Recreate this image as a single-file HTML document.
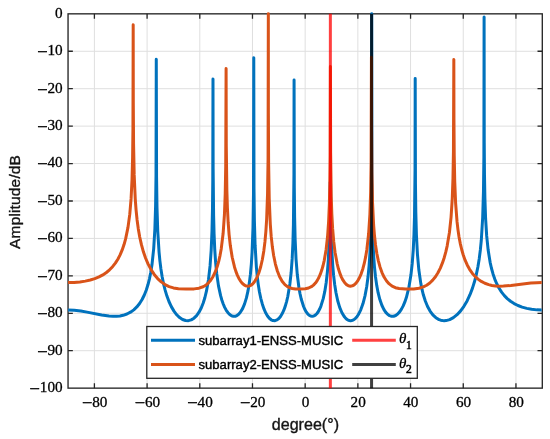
<!DOCTYPE html>
<html><head><meta charset="utf-8"><title>ENSS-MUSIC spectrum</title><style>html,body{margin:0;padding:0;background:#fff;overflow:hidden}svg{display:block}</style></head><body>
<svg width="550" height="439" viewBox="0 0 550 439">
<rect x="0" y="0" width="550" height="439" fill="#fff"/>
<path d="M94.40 13.84V388.14M147.09 13.84V388.14M199.79 13.84V388.14M252.48 13.84V388.14M305.17 13.84V388.14M357.87 13.84V388.14M410.56 13.84V388.14M463.26 13.84V388.14M515.95 13.84V388.14M68.05 350.71H542.30M68.05 313.28H542.30M68.05 275.85H542.30M68.05 238.42H542.30M68.05 200.99H542.30M68.05 163.56H542.30M68.05 126.13H542.30M68.05 88.70H542.30M68.05 51.27H542.30" stroke="#DFDFDF" stroke-width="1" fill="none"/>
<path d="M94.40 388.14v-4.8M94.40 13.84v4.8M147.09 388.14v-4.8M147.09 13.84v4.8M199.79 388.14v-4.8M199.79 13.84v4.8M252.48 388.14v-4.8M252.48 13.84v4.8M305.17 388.14v-4.8M305.17 13.84v4.8M357.87 388.14v-4.8M357.87 13.84v4.8M410.56 388.14v-4.8M410.56 13.84v4.8M463.26 388.14v-4.8M463.26 13.84v4.8M515.95 388.14v-4.8M515.95 13.84v4.8M68.05 350.71h4.8M542.30 350.71h-4.8M68.05 313.28h4.8M542.30 313.28h-4.8M68.05 275.85h4.8M542.30 275.85h-4.8M68.05 238.42h4.8M542.30 238.42h-4.8M68.05 200.99h4.8M542.30 200.99h-4.8M68.05 163.56h4.8M542.30 163.56h-4.8M68.05 126.13h4.8M542.30 126.13h-4.8M68.05 88.70h4.8M542.30 88.70h-4.8M68.05 51.27h4.8M542.30 51.27h-4.8" stroke="#262626" stroke-width="1.3" fill="none"/>
<rect x="68.05" y="13.84" width="474.25" height="374.30" stroke="#262626" stroke-width="1.35" fill="none"/>
<defs><clipPath id="cr"><rect x="0" y="0" width="541.7" height="439"/></clipPath></defs><g clip-path="url(#cr)">
<path d="M68.05 310.06 L74.24 310.30 L80.83 311.05 L87.02 312.12 L101.64 315.06 L109.02 316.10 L112.97 316.35 L116.53 316.30 L119.95 315.95 L123.12 315.31 L126.94 314.02 L130.49 312.20 L133.79 309.85 L136.82 306.94 L139.58 303.49 L142.09 299.49 L144.33 294.97 L146.30 289.97 L148.01 284.54 L149.46 278.82 L150.78 272.30 L151.97 264.79 L153.70 248.59 L154.89 228.91 L155.60 205.93 L156.02 174.96 L156.28 59.13 L156.56 176.66 L156.99 207.45 L157.74 231.01 L159.04 251.80 L159.90 260.83 L160.92 269.01 L162.11 276.49 L163.56 283.78 L165.14 290.17 L166.85 295.82 L168.96 301.50 L171.33 306.63 L173.97 311.13 L176.73 314.78 L179.63 317.60 L182.53 319.49 L185.56 320.53 L188.46 320.63 L191.22 319.87 L193.99 318.17 L196.62 315.57 L199.00 312.21 L201.24 307.94 L203.21 302.99 L204.92 297.48 L206.50 290.96 L208.48 279.69 L210.06 265.96 L211.20 250.10 L212.00 230.81 L212.49 208.72 L212.78 180.61 L212.99 78.97 L213.14 168.43 L213.61 215.63 L214.07 233.71 L214.73 249.14 L215.60 262.22 L216.72 273.65 L218.49 285.85 L220.60 295.64 L221.92 300.22 L223.24 303.97 L224.68 307.34 L226.27 310.28 L227.98 312.72 L229.69 314.50 L231.53 315.74 L233.38 316.32 L235.22 316.24 L236.94 315.57 L238.65 314.29 L240.36 312.34 L242.60 308.61 L244.58 303.91 L246.42 297.89 L248.00 290.91 L249.32 283.09 L250.43 274.14 L251.34 264.07 L252.08 252.47 L252.99 227.48 L253.49 193.97 L253.77 57.63 L254.00 189.02 L254.40 220.95 L255.10 245.17 L256.38 267.05 L257.24 276.33 L258.28 284.62 L259.46 291.94 L260.78 298.29 L262.36 304.24 L264.07 309.21 L265.79 313.04 L267.50 315.97 L269.34 318.26 L271.19 319.77 L273.03 320.56 L275.01 320.63 L276.98 319.91 L278.83 318.48 L280.54 316.43 L282.25 313.59 L283.83 310.15 L285.28 306.13 L286.60 301.56 L287.79 296.48 L289.89 283.89 L291.17 272.28 L292.16 258.90 L292.90 243.20 L293.41 224.73 L293.94 174.83 L294.08 80.09 L294.30 186.98 L294.61 216.74 L295.14 239.20 L296.02 258.81 L297.29 274.80 L298.98 287.96 L300.04 293.76 L301.22 298.96 L303.59 306.52 L304.91 309.54 L306.23 311.91 L307.68 313.87 L309.13 315.24 L310.58 316.06 L312.16 316.36 L313.74 316.07 L315.32 315.15 L316.77 313.75 L318.22 311.75 L319.53 309.34 L320.85 306.29 L323.22 298.67 L324.80 291.40 L326.25 282.19 L327.41 271.76 L328.34 259.75 L329.44 234.06 L329.90 211.10 L330.17 182.28 L330.52 182.28 L331.01 223.71 L331.96 252.70 L332.67 264.56 L333.58 275.19 L334.68 284.54 L336.00 292.79 L337.71 300.70 L339.69 307.35 L341.93 312.75 L344.43 316.86 L345.75 318.37 L347.07 319.48 L348.38 320.23 L349.83 320.64 L351.28 320.65 L352.73 320.25 L354.18 319.45 L355.50 318.34 L356.95 316.70 L358.26 314.77 L360.77 309.81 L363.01 303.51 L364.98 295.86 L366.70 286.72 L368.01 277.06 L369.11 265.58 L369.97 252.57 L370.96 225.21 L371.47 187.68 L371.71 13.84 L371.89 179.46 L372.29 216.63 L373.04 243.50 L373.68 256.12 L374.49 267.07 L375.49 276.74 L376.71 285.34 L378.16 292.91 L379.87 299.56 L381.85 305.23 L383.95 309.61 L385.80 312.38 L387.64 314.35 L389.62 315.69 L391.59 316.31 L393.57 316.25 L395.68 315.47 L397.65 314.04 L399.63 311.89 L401.47 309.17 L403.19 305.91 L404.77 302.16 L406.35 297.52 L408.85 287.53 L410.96 274.86 L412.23 263.40 L413.24 250.08 L413.97 234.78 L414.50 216.51 L415.03 170.81 L415.20 78.59 L415.45 183.14 L415.82 212.57 L416.42 234.71 L417.42 254.03 L418.86 270.01 L420.84 283.60 L422.02 289.47 L423.34 294.77 L425.32 301.05 L427.56 306.50 L430.06 311.09 L432.83 314.84 L435.86 317.70 L439.02 319.59 L440.73 320.21 L442.44 320.57 L444.16 320.70 L446.00 320.58 L449.69 319.59 L453.38 317.63 L457.07 314.69 L460.62 310.86 L463.92 306.32 L467.08 300.89 L469.98 294.72 L472.48 288.14 L474.46 281.82 L476.30 274.61 L477.88 266.93 L479.20 258.90 L480.35 249.95 L481.30 240.24 L482.69 217.48 L483.46 191.87 L483.88 157.33 L484.10 16.98 L484.25 143.07 L484.48 174.51 L484.89 198.02 L485.62 218.95 L486.68 235.94 L488.16 250.11 L490.13 262.31 L491.45 268.24 L493.03 273.96 L494.87 279.32 L496.85 283.97 L499.09 288.25 L501.59 292.15 L504.36 295.63 L507.26 298.58 L510.55 301.28 L514.11 303.58 L517.93 305.50 L522.14 307.12 L526.76 308.39 L531.63 309.30 L536.90 309.87 L542.30 310.06" stroke="#0072BD" stroke-width="3" fill="none" stroke-linejoin="round" stroke-linecap="butt"/>
<path d="M68.05 282.56 L74.11 282.40 L79.91 281.92 L85.31 281.13 L90.31 280.02 L94.79 278.65 L99.01 276.92 L102.83 274.89 L106.39 272.48 L109.55 269.82 L112.58 266.67 L115.34 263.12 L117.85 259.19 L120.09 254.89 L122.19 249.93 L124.04 244.57 L125.62 238.90 L127.99 227.37 L129.78 214.13 L131.11 198.39 L132.04 179.20 L132.61 157.16 L132.95 128.17 L133.19 24.69 L133.30 101.88 L133.57 143.80 L134.18 174.90 L135.25 198.81 L136.06 209.83 L137.06 219.71 L138.27 228.65 L139.71 236.98 L141.43 244.70 L143.40 251.79 L145.64 258.27 L148.15 264.13 L151.04 269.63 L154.21 274.44 L157.63 278.56 L161.19 281.89 L165.01 284.57 L169.09 286.58 L173.44 287.93 L178.44 288.75 L186.09 289.11 L194.12 288.88 L199.00 288.15 L203.08 286.72 L204.92 285.71 L206.77 284.39 L208.48 282.83 L210.06 281.05 L212.96 276.73 L215.59 271.16 L217.31 266.34 L218.76 261.20 L220.07 255.35 L221.26 248.67 L223.11 233.54 L224.42 214.98 L225.23 193.50 L225.72 166.19 L226.10 68.49 L226.28 145.97 L226.86 190.55 L227.40 207.75 L228.14 222.23 L229.12 234.84 L230.35 245.84 L232.19 257.23 L234.56 267.20 L235.88 271.36 L237.33 275.11 L238.78 278.17 L240.36 280.85 L242.07 283.07 L243.79 284.66 L245.50 285.68 L247.34 286.15 L249.19 285.99 L250.90 285.26 L252.61 283.94 L254.32 281.97 L256.70 278.01 L258.80 272.98 L260.65 267.00 L262.36 259.52 L263.81 250.92 L264.93 241.91 L265.88 231.42 L266.64 219.34 L267.56 193.64 L268.07 159.02 L268.33 13.84 L268.39 113.93 L268.63 163.53 L269.21 198.25 L270.29 224.09 L271.21 236.42 L272.37 247.09 L273.69 255.81 L275.40 264.07 L277.38 270.99 L279.62 276.68 L282.12 281.20 L284.89 284.58 L287.13 286.41 L289.50 287.68 L292.13 288.50 L295.43 288.97 L300.83 289.10 L305.31 288.78 L308.60 288.01 L311.37 286.70 L313.47 285.12 L315.45 283.02 L317.16 280.61 L318.88 277.51 L320.32 274.20 L321.77 270.10 L323.09 265.47 L324.28 260.30 L326.12 249.40 L327.54 236.76 L328.62 221.65 L329.38 203.69 L329.87 182.83 L330.17 156.09 L330.40 66.62 L330.62 152.28 L331.23 196.33 L331.81 213.76 L332.63 228.67 L333.71 241.45 L335.08 252.48 L337.19 263.86 L338.50 269.01 L339.82 273.16 L341.40 277.12 L342.98 280.19 L344.70 282.71 L346.54 284.60 L348.38 285.73 L350.36 286.17 L352.34 285.84 L354.18 284.82 L356.03 283.10 L357.87 280.59 L359.58 277.47 L361.16 273.79 L362.88 268.69 L364.32 263.21 L365.64 256.92 L366.83 249.72 L368.63 233.75 L369.90 214.29 L370.66 191.99 L371.12 162.71 L371.44 57.26 L371.56 130.77 L371.86 171.97 L372.51 202.06 L373.61 224.97 L374.47 235.54 L375.52 244.91 L376.84 253.51 L378.29 260.60 L380.00 266.98 L381.98 272.55 L384.22 277.27 L386.59 280.96 L389.22 283.91 L392.12 286.12 L395.41 287.67 L399.10 288.58 L405.43 289.09 L413.73 288.94 L418.99 288.24 L423.34 286.92 L426.64 285.26 L429.80 282.98 L432.70 280.17 L435.46 276.70 L437.96 272.74 L440.34 268.07 L442.44 262.94 L444.29 257.45 L445.87 251.69 L447.19 245.87 L449.43 232.48 L451.07 217.12 L452.25 198.88 L452.98 178.13 L453.44 151.72 L453.83 59.50 L453.94 118.18 L454.22 154.93 L454.75 181.80 L455.62 203.04 L457.04 221.68 L457.99 229.87 L459.04 236.94 L460.23 243.30 L461.68 249.52 L463.26 255.00 L465.10 260.18 L467.21 264.97 L469.58 269.30 L472.22 273.15 L474.98 276.36 L478.01 279.13 L481.31 281.43 L484.86 283.26 L488.68 284.64 L491.98 285.42 L495.53 285.93 L499.35 286.16 L503.44 286.12 L510.95 285.53 L530.84 283.11 L536.77 282.69 L542.30 282.56" stroke="#D95319" stroke-width="3" fill="none" stroke-linejoin="round" stroke-linecap="butt"/>
</g>
<path d="M330.36 13.84V388.14" stroke="#FF0000" stroke-opacity="0.75" stroke-width="3" fill="none"/>
<path d="M371.57 13.84V388.14" stroke="#000000" stroke-opacity="0.75" stroke-width="3" fill="none"/>
<g font-family="Liberation Serif, serif" font-size="15.2" fill="#000" stroke="#000" stroke-width="0.3"><text x="82.00" y="406.80" dy="1.3" textLength="10.2" lengthAdjust="spacingAndGlyphs" stroke-width="0.5">−</text><text x="92.20" y="406.80">80</text><text x="134.69" y="406.80" dy="1.3" textLength="10.2" lengthAdjust="spacingAndGlyphs" stroke-width="0.5">−</text><text x="144.89" y="406.80">60</text><text x="187.39" y="406.80" dy="1.3" textLength="10.2" lengthAdjust="spacingAndGlyphs" stroke-width="0.5">−</text><text x="197.59" y="406.80">40</text><text x="240.08" y="406.80" dy="1.3" textLength="10.2" lengthAdjust="spacingAndGlyphs" stroke-width="0.5">−</text><text x="250.28" y="406.80">20</text><text x="301.67" y="406.80">0</text><text x="350.57" y="406.80">20</text><text x="403.26" y="406.80">40</text><text x="455.96" y="406.80">60</text><text x="508.65" y="406.80">80</text><text x="29.60" y="391.94" dy="2.0" textLength="10.2" lengthAdjust="spacingAndGlyphs" stroke-width="0.5">−</text><text x="39.80" y="391.94">100</text><text x="37.20" y="354.51" dy="2.0" textLength="10.2" lengthAdjust="spacingAndGlyphs" stroke-width="0.5">−</text><text x="47.40" y="354.51">90</text><text x="37.20" y="317.08" dy="2.0" textLength="10.2" lengthAdjust="spacingAndGlyphs" stroke-width="0.5">−</text><text x="47.40" y="317.08">80</text><text x="37.20" y="279.65" dy="2.0" textLength="10.2" lengthAdjust="spacingAndGlyphs" stroke-width="0.5">−</text><text x="47.40" y="279.65">70</text><text x="37.20" y="242.22" dy="2.0" textLength="10.2" lengthAdjust="spacingAndGlyphs" stroke-width="0.5">−</text><text x="47.40" y="242.22">60</text><text x="37.20" y="204.79" dy="2.0" textLength="10.2" lengthAdjust="spacingAndGlyphs" stroke-width="0.5">−</text><text x="47.40" y="204.79">50</text><text x="37.20" y="167.36" dy="2.0" textLength="10.2" lengthAdjust="spacingAndGlyphs" stroke-width="0.5">−</text><text x="47.40" y="167.36">40</text><text x="37.20" y="129.93" dy="2.0" textLength="10.2" lengthAdjust="spacingAndGlyphs" stroke-width="0.5">−</text><text x="47.40" y="129.93">30</text><text x="37.20" y="92.50" dy="2.0" textLength="10.2" lengthAdjust="spacingAndGlyphs" stroke-width="0.5">−</text><text x="47.40" y="92.50">20</text><text x="37.20" y="55.07" dy="2.0" textLength="10.2" lengthAdjust="spacingAndGlyphs" stroke-width="0.5">−</text><text x="47.40" y="55.07">10</text><text x="55.00" y="17.64">0</text></g>
<text x="305.4" y="429.8" text-anchor="middle" font-family="Liberation Sans, Arial, sans-serif" font-size="16.1" fill="#141414" stroke="#141414" stroke-width="0.35">degree(°)</text>
<text transform="translate(19.6 201.9) rotate(-90)" x="0" y="0" text-anchor="middle" font-family="Liberation Sans, Arial, sans-serif" font-size="15.45" letter-spacing="0.18" fill="#141414" stroke="#141414" stroke-width="0.35">Amplitude/dB</text>
<rect x="146.8" y="326.5" width="270.50" height="51.80" fill="#fff" stroke="#262626" stroke-width="1.3"/>
<path d="M151 340.2H195" stroke="#0072BD" stroke-width="3"/>
<path d="M151 364.5H195" stroke="#D95319" stroke-width="3"/>
<path d="M352.2 340.2H395.8" stroke="#FF0000" stroke-opacity="0.75" stroke-width="3"/>
<path d="M352.2 364.5H395.8" stroke="#000" stroke-opacity="0.75" stroke-width="3"/>
<g font-family="Liberation Sans, Arial, sans-serif" font-size="13.1" fill="#000" stroke="#000" stroke-width="0.4"><text x="198.5" y="344.8">subarray1-ENSS-MUSIC</text><text x="198.5" y="369.1">subarray2-ENSS-MUSIC</text></g>
<g font-family="Liberation Serif, serif" font-style="italic" font-size="15" fill="#000" stroke="#000" stroke-width="0.3"><text x="399" y="343.2">θ<tspan font-style="normal" font-size="11.5" dx="-0.5" dy="5.6" stroke-width="0.5">1</tspan></text><text x="399" y="367.5">θ<tspan font-style="normal" font-size="11.5" dx="-0.5" dy="5.6" stroke-width="0.5">2</tspan></text></g>
</svg>
</body></html>
